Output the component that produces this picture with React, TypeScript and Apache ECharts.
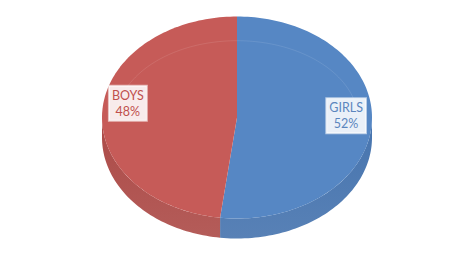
import React, { useEffect, useRef } from 'react';
import * as echarts from 'echarts';

const categories = ['GIRLS', 'BOYS'];
const values = [52, 48];
const topColors = ['#5687C4', '#C65B58'];
const sideColors = ['#4674AE', '#AC4A47'];
const labelColors = ['#5B86BE', '#C0504D'];

export default function App() {
  const ref = useRef<HTMLDivElement>(null);
  useEffect(() => {
    document.body.style.margin = '0';
    const chart = echarts.init(ref.current!, null, { renderer: 'svg' });
    const total = values.reduce((a, b) => a + b, 0);
    const cx = 237, cy = 117.5, rx = 135, ry = 101, depth = 20;
    const pt = (deg: number, dy = 0, k = 1, ky = 1, oy = 0) => {
      const r = (deg * Math.PI) / 180;
      return [cx + rx * k * Math.sin(r), cy + oy - ry * ky * Math.cos(r) + dy];
    };
    const arc = (a0: number, a1: number, dy = 0, k = 1, ky = 1, oy = 0) => {
      const n = Math.max(2, Math.ceil(Math.abs(a1 - a0) / 1.5));
      const out: number[][] = [];
      for (let i = 0; i <= n; i++) out.push(pt(a0 + ((a1 - a0) * i) / n, dy, k, ky, oy));
      return out;
    };
    const renderItem = (params: any, api: any) => {
      const idx = params.dataIndex;
      let before = 0;
      for (let i = 0; i < idx; i++) before += values[i];
      const start = (before / total) * 360;
      const end = start + (api.value(0) / total) * 360;
      const children: any[] = [];
      const s0 = Math.max(start, 90), s1 = Math.min(end, 270);
      if (s1 > s0) {
        const topArc = arc(s0, s1, 0);
        const botArc = arc(s0, s1, depth).reverse();
        children.push({
          type: 'polygon',
          z2: 1,
          shape: { points: topArc.concat(botArc) },
          style: {
            fill: new echarts.graphic.LinearGradient(0, 0, 0, 1, [
              { offset: 0, color: sideColors[idx] },
              { offset: 1, color: echarts.color.lift(sideColors[idx], 0.1) },
            ]),
          },
        });
      }
      children.push({
        type: 'polygon',
        z2: 2,
        shape: { points: [[cx, cy]].concat(arc(start, end, 0)) },
        style: { fill: topColors[idx] },
      });
      // faint bevel ring, back half only
      const ranges: number[][] = [[0, 85], [275, 360]];
      ranges.forEach(([r0, r1]) => {
        const a0 = Math.max(start, r0), a1 = Math.min(end, r1);
        if (a1 > a0) {
          children.push({
            type: 'polyline',
            z2: 3,
            shape: { points: arc(a0, a1, 0, 0.9, 0.8, 4) },
            style: { stroke: 'rgba(255,255,255,0.10)', lineWidth: 1, fill: 'none' },
          });
        }
      });
      const mid = (start + end) / 2;
      const mr = (mid * Math.PI) / 180;
      const lx = cx + rx * 0.81 * Math.sin(mr);
      const ly = cy - 8 - ry * Math.cos(mr);
      children.push({
        type: 'text',
        z2: 10,
        x: lx,
        y: ly,
        style: {
          text: categories[idx] + '\n' + Math.round((api.value(0) / total) * 100) + '%',
          fill: labelColors[idx],
          font: '12.5px Lato',
          align: 'center',
          verticalAlign: 'middle',
          lineHeight: 16,
          backgroundColor: 'rgba(255,255,255,0.88)',
          borderColor: 'rgba(255,255,255,0.6)',
          borderWidth: 1,
          padding: [2, 3, 1, 3],
        },
      });
      return { type: 'group', children };
    };
    chart.setOption({
      animation: false,
      backgroundColor: '#ffffff',
      series: [
        {
          type: 'custom',
          coordinateSystem: 'none',
          renderItem,
          data: values.map((v, i) => ({ name: categories[i], value: [v] })),
        },
      ],
    });
    return () => chart.dispose();
  }, []);
  return <div ref={ref} style={{ width: 474, height: 258 }} />;
}
